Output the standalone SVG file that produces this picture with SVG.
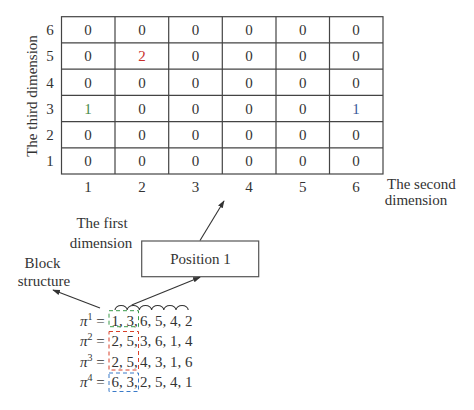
<svg xmlns="http://www.w3.org/2000/svg" width="474" height="410" viewBox="0 0 474 410">
<defs>
<style>
text{font-family:"Liberation Serif","Times New Roman",serif;font-size:15px;fill:#333}
.c{text-anchor:middle}
.g{stroke:#444;stroke-width:1.2;fill:none}
.ln{stroke:#333;stroke-width:1.1;fill:none}
.d{fill:none;stroke-width:1;stroke-dasharray:4,3}
</style>
<marker id="ah" viewBox="0 0 10 10" refX="9" refY="5" markerWidth="7" markerHeight="7" orient="auto"><path d="M0,1.5 L10,5 L0,8.5 Z" fill="#333"/></marker>
</defs>
<rect width="474" height="410" fill="#fff"/>
<g id="grid">
<rect class="g" x="61.5" y="16.7" width="321.5" height="157.3"/>
<path class="g" d="M115,16.7V174M168.7,16.7V174M222.3,16.7V174M276,16.7V174M329.5,16.7V174M61.5,42.9H383M61.5,69.2H383M61.5,95.4H383M61.5,121.6H383M61.5,147.8H383"/>
<g class="c">
<text x="88" y="35">0</text><text x="142" y="35">0</text><text x="195.5" y="35">0</text><text x="249" y="35">0</text><text x="302.7" y="35">0</text><text x="356" y="35">0</text>
<text x="88" y="61.3">0</text><text x="142" y="61.3" style="fill:#c8302a">2</text><text x="195.5" y="61.3">0</text><text x="249" y="61.3">0</text><text x="302.7" y="61.3">0</text><text x="356" y="61.3">0</text>
<text x="88" y="87.5">0</text><text x="142" y="87.5">0</text><text x="195.5" y="87.5">0</text><text x="249" y="87.5">0</text><text x="302.7" y="87.5">0</text><text x="356" y="87.5">0</text>
<text x="88" y="113.8" style="fill:#4a8a4a">1</text><text x="142" y="113.8">0</text><text x="195.5" y="113.8">0</text><text x="249" y="113.8">0</text><text x="302.7" y="113.8">0</text><text x="356" y="113.8" style="fill:#3a5a9a">1</text>
<text x="88" y="140">0</text><text x="142" y="140">0</text><text x="195.5" y="140">0</text><text x="249" y="140">0</text><text x="302.7" y="140">0</text><text x="356" y="140">0</text>
<text x="88" y="166.2">0</text><text x="142" y="166.2">0</text><text x="195.5" y="166.2">0</text><text x="249" y="166.2">0</text><text x="302.7" y="166.2">0</text><text x="356" y="166.2">0</text>
</g>
<g class="c">
<text x="50" y="35">6</text><text x="50" y="61.3">5</text><text x="50" y="87.5">4</text><text x="50" y="113.8">3</text><text x="50" y="140">2</text><text x="50" y="166.2">1</text>
<text x="88" y="192">1</text><text x="142" y="192">2</text><text x="195.5" y="192">3</text><text x="249" y="192">4</text><text x="302.7" y="192">5</text><text x="356" y="192">6</text>
</g>
<text class="c" transform="translate(37,96) rotate(-90)">The third dimension</text>
<text x="387" y="188.5">The second</text>
<text class="c" x="416" y="205">dimension</text>
</g>
<g id="first-dim"><text class="c" x="102" y="228">The first</text><text class="c" x="101" y="248">dimension</text></g>
<g id="position"><rect x="141.7" y="241" width="117" height="35.7" fill="#fff" stroke="#555" stroke-width="1.2"/><text class="c" x="200.5" y="263.5">Position 1</text></g>
<g id="block"><text class="c" x="42.5" y="268">Block</text><text class="c" x="44" y="286">structure</text></g>
<g id="perms">
<text x="80" y="325.5"><tspan font-style="italic">π</tspan><tspan dy="-6" font-size="10">1</tspan><tspan dy="6"> =</tspan></text>
<text x="80" y="346"><tspan font-style="italic">π</tspan><tspan dy="-6" font-size="10">2</tspan><tspan dy="6"> =</tspan></text>
<text x="80" y="366.5"><tspan font-style="italic">π</tspan><tspan dy="-6" font-size="10">3</tspan><tspan dy="6"> =</tspan></text>
<text x="80" y="387"><tspan font-style="italic">π</tspan><tspan dy="-6" font-size="10">4</tspan><tspan dy="6"> =</tspan></text>
<text x="111.5" y="325.5">1, 3,</text><text x="140" y="325.5">6, 5, 4, 2</text>
<text x="111.5" y="346">2, 5,</text><text x="140" y="346">3, 6, 1, 4</text>
<text x="111.5" y="366.5">2, 5,</text><text x="140" y="366.5">4, 3, 1, 6</text>
<text x="111.5" y="387">6, 3,</text><text x="140" y="387">2, 5, 4, 1</text>
<rect class="d" x="109" y="310.7" width="29.5" height="16" stroke="#3a9a4a"/>
<rect class="d" x="109" y="331.5" width="29.5" height="38.5" stroke="#d8402a"/>
<rect class="d" x="109" y="373" width="29.5" height="18.5" stroke="#3a7ac8"/>
<path class="ln" d="M115,310 a6.1,4.5 0 0 1 12.2,0 a6.1,4.5 0 0 1 12.2,0 a6.1,4.5 0 0 1 12.2,0 a6.1,4.5 0 0 1 12.2,0 a6.1,4.5 0 0 1 12.2,0 a6.1,4.5 0 0 1 12.2,0"/>
</g>
<g id="connectors">
<line class="ln" x1="200" y1="240.5" x2="224" y2="201" marker-end="url(#ah)"/>
<line class="ln" x1="131.7" y1="305" x2="200" y2="277.2" marker-end="url(#ah)"/>
<line class="ln" x1="100" y1="308" x2="53" y2="290" marker-end="url(#ah)"/>
</g>
</svg>
